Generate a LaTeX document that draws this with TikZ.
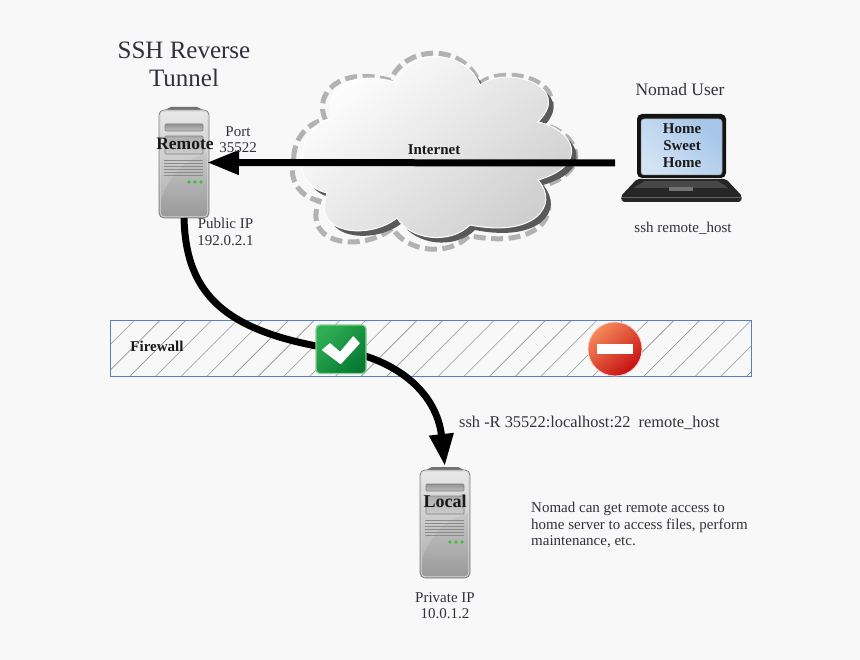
\documentclass[tikz,border=0pt]{standalone}
\usepackage{fontspec}
\setmainfont{Liberation Serif}
\usetikzlibrary{arrows.meta}
\definecolor{pagebg}{HTML}{F8F8F8}
\definecolor{inktext}{HTML}{33303A}
\definecolor{wallblue}{HTML}{5580C8}
\definecolor{screenlight}{HTML}{D3E3F4}
\definecolor{screendark}{HTML}{A6C6E8}
\definecolor{okgreen}{HTML}{2FAE55}
\definecolor{okdark}{HTML}{067A32}
\definecolor{okrim}{HTML}{86CF90}
\definecolor{stoporange}{HTML}{F58A5A}
\definecolor{stopmid}{HTML}{EA3A0C}
\definecolor{stopdark}{HTML}{C60F12}
\def\cloudshape{(303,153) .. controls (303,135) and (318,120) .. (333,118)
	.. controls (322,95) and (345,68) .. (395,82)
	.. controls (410,48) and (465,48) .. (480,85)
	.. controls (505,65) and (575,85) .. (538,122)
	.. controls (575,130) and (590,165) .. (538,180)
	.. controls (560,205) and (535,238) .. (470,225)
	.. controls (450,245) and (410,240) .. (397,218)
	.. controls (370,240) and (310,235) .. (327,193)
	.. controls (305,188) and (298,170) .. (303,153) -- cycle}
\tikzset{
	lbl/.style={font=\fontsize{15}{16.5}\selectfont, text=inktext, align=center, inner sep=0},
	boldlbl/.style={font=\fontsize{15}{17}\selectfont\bfseries, text=black!90, align=center, inner sep=0},
	hostbox/.style={minimum width=50, minimum height=111, inner sep=0, outer sep=0},
	bigarrow/.style={line width=7, black, -{Triangle[length=32, width=23]}},
	server/.pic={
		\fill[black!55] (6,3) -- (12,0) -- (38,0) -- (44,3) -- cycle;
		\draw[black!50, line width=0.8, top color=black!10, bottom color=black!40, rounded corners=5] (0,3) rectangle (50,111);
		\draw[white!85!black, line width=0.7, rounded corners=4] (1.2,4.2) rectangle (48.8,109.8);
		\fill[white, opacity=0.16] (2,5) -- (48,5) -- (48,46) .. controls (28,50) and (10,68) .. (2,92) -- cycle;
		\draw[black!50, line width=0.7, top color=black!42, bottom color=black!25, rounded corners=1] (6,17) rectangle (44,24);
		\draw[black!50, line width=0.7, top color=black!32, bottom color=black!20, rounded corners=1] (6,29) rectangle (44,47);
		\foreach \vy in {53,56,59,62,65,68}
			\draw[black!45, line width=0.7] (5,\vy) -- (44,\vy);
		\foreach \lx in {30,36,42}
			\fill[green!65!black!75] (\lx,75) circle (1.9);
	}
}
\begin{document}
\begin{tikzpicture}[x=1pt, y=-1pt]
	\useasboundingbox (0,0) rectangle (860,660);
	\fill[pagebg] (0,0) rectangle (860,660);

	% cloud
	\begin{scope}[shift={(434,151)}, xscale=1.05, yscale=1.085, shift={(-436.5,-147)}]
		\draw[black!30, line width=5, dash pattern=on 12 off 5.5] \cloudshape;
	\end{scope}
	\fill[black!65, shift={(5,5)}] \cloudshape;
	\draw[white, line width=1, left color=white, right color=black!20, shading angle=40] \cloudshape;

	% firewall
	\begin{scope}
		\clip (110,320) rectangle (751,376);
		\foreach \hx in {109,134.7,...,820}
			\draw[black!42, line width=0.6] (\hx-56,376) -- (\hx,320);
	\end{scope}
	\draw[wallblue, line width=0.9] (110,320) rectangle (751,376);
	\node[boldlbl] (firewall) at (157,346.5) {Firewall};

	% hosts
	\pic at (159,107) {server};
	\pic at (420,467) {server};
	\node[hostbox] (remote) at (184,162.5) {};
	\node[hostbox] (local) at (445,522.5) {};
	\node[minimum width=127, minimum height=84, inner sep=0, outer sep=0] (laptop) at (678.5,163) {};

	% laptop
	\fill[black!92, rounded corners=5] (637,114) rectangle (726,178);
	\draw[black!40, line width=0.5, left color=screenlight, right color=screendark, shading angle=135, rounded corners=3] (641,119) rectangle (722,175);
	\fill[black!85, rounded corners=2] (637,179) -- (726,179) -- (742,196) -- (741,202) -- (622,202) -- (621,196) -- cycle;
	\fill[black!72] (645,181) -- (718,181) -- (728,188) -- (633,188) -- cycle;
	\fill[black!55] (669,187.5) rectangle (693,191);
	\draw[black!60, line width=0.7] (622,197) -- (741,197);

	% connectors
	\draw[bigarrow, shorten >=-2] (laptop.west) -- (remote.east);
	\coordinate (gate) at (340,350);
	\draw[bigarrow, shorten >=1] (remote.south) .. controls (186,295) and (225,333) .. (gate) .. controls (400,360) and (437,395) .. (local.north);

	% check mark
	\draw[okrim, line width=1.2, rounded corners=4, left color=okgreen, right color=okdark, shading angle=45] (316,325) rectangle (366,373.5);
	\fill[white, rounded corners=0.5] (321.7,350) -- (330,343) -- (340,351.7) -- (353.3,336) -- (360,343.3) -- (340.7,364.3) -- cycle;
	\node[inner sep=0, minimum size=51] (allowed) at (341,349) {};

	% no entry
	\node[circle, draw=white!80!red, line width=0.8, inner sep=0, minimum size=54, left color=stoporange, middle color=stopmid, right color=stopdark, shading angle=40] (blocked) at (615,349) {};
	\fill[white] (597,344) rectangle (633,354);

	% labels
	\node[lbl, font=\fontsize{25}{28}\selectfont] (title) at (184,64.5) {SSH Reverse\\Tunnel};
	\node[boldlbl, font=\fontsize{17.5}{20}\selectfont\bfseries] (remotename) at (185,143.5) {Remote};
	\node[boldlbl, font=\fontsize{18}{20}\selectfont\bfseries] (localname) at (445,501.5) {Local};
	\node[lbl] (port) at (238,139.5) {Port\\35522};
	\node[lbl] (publicip) at (225.5,232) {Public IP\\192.0.2.1};
	\node[lbl] (privateip) at (445,605.5) {Private IP\\10.0.1.2};
	\node[boldlbl] (internet) at (434,150) {Internet};
	\node[lbl, font=\fontsize{17.5}{20}\selectfont] (nomad) at (680,89.5) {Nomad User};
	\node[lbl] (sshcmd) at (683,228) {ssh remote\_host};
	\node[boldlbl, font=\fontsize{15}{17}\selectfont\bfseries] (homesign) at (682,146) {Home\\Sweet\\Home};
	\node[lbl, anchor=west, font=\fontsize{16.4}{18}\selectfont] (reversecmd) at (459,423) {ssh -R 35522:localhost:22\ \ remote\_host};
	\node[lbl, anchor=west, align=left, font=\fontsize{15}{16.5}\selectfont] (note) at (531,525) {Nomad can get remote access to\\home server to access files, perform\\maintenance, etc.};
\end{tikzpicture}
\end{document}
